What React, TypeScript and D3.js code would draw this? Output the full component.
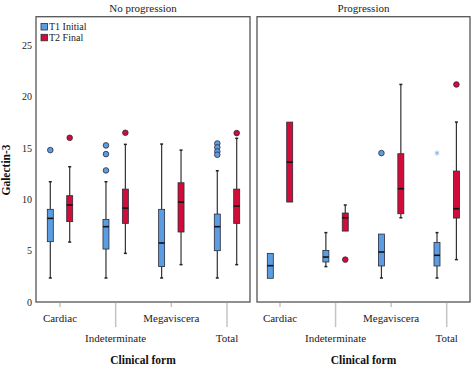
import React from "react";
import * as d3 from "d3";

const categories = ["Cardiac", "Indeterminate", "Megaviscera", "Total"];
const seriesNames = ["T1 Initial", "T2 Final"];
const panelTitles = ["No progression", "Progression"];
const yTicks = [0, 5, 10, 15, 20, 25];

type Box = { min: number; q1: number; med: number; q3: number; max: number; out: number[]; ext?: number[] };

const noProgT1: Box[] = [
  { min: 2.34, q1: 5.88, med: 8.15, q3: 9.03, max: 11.72, out: [14.8] },
  { min: 2.34, q1: 5.16, med: 7.34, q3: 8.05, max: 11.72, out: [15.26, 14.41, 12.82] },
  { min: 2.34, q1: 3.45, med: 5.75, q3: 9.03, max: 15.39, out: [] },
  { min: 2.34, q1: 5.0, med: 7.34, q3: 8.57, max: 12.79, out: [15.45, 15.07, 14.67, 14.35] },
];
const noProgT2: Box[] = [
  { min: 5.84, q1: 7.83, med: 9.45, q3: 10.36, max: 13.18, out: [16.0] },
  { min: 4.74, q1: 7.66, med: 9.15, q3: 11.0, max: 15.36, out: [16.49] },
  { min: 3.64, q1: 6.82, med: 9.74, q3: 11.62, max: 14.8, out: [] },
  { min: 3.64, q1: 7.66, med: 9.35, q3: 11.0, max: 15.95, out: [16.46] },
];
const progT1: Box[] = [
  { min: 2.31, q1: 2.31, med: 3.54, q3: 4.74, max: 4.74, out: [] },
  { min: 3.45, q1: 3.9, med: 4.38, q3: 5.03, max: 6.76, out: [] },
  { min: 2.34, q1: 3.51, med: 4.87, q3: 6.62, max: 6.62, out: [14.51] },
  { min: 2.34, q1: 3.51, med: 4.55, q3: 5.81, max: 6.76, out: [], ext: [14.51] },
];
const progT2: Box[] = [
  { min: 9.74, q1: 9.74, med: 13.63, q3: 17.53, max: 17.53, out: [] },
  { min: 6.91, q1: 6.91, med: 8.21, q3: 8.67, max: 9.45, out: [4.13] },
  { min: 8.21, q1: 8.6, med: 11.04, q3: 14.45, max: 21.2, out: [] },
  { min: 4.13, q1: 8.18, med: 9.09, q3: 12.76, max: 17.53, out: [21.2] },
];

const panelData = [
  [noProgT1, noProgT2],
  [progT1, progT2],
];

const colors = ["#5b9de2", "#d20c38"];
const serif = "'Liberation Serif', 'DejaVu Serif', serif";

export default function App() {
  const W = 474, H = 368;
  const top = 16.7, bottom = 302;
  const y = d3.scaleLinear().domain([0, 27.8]).range([bottom, top]);
  const panels = [
    { x0: 36, x1: 250, r0: 60, r1: 227 },
    { x0: 257, x1: 470, r0: 280, r1: 446.7 },
  ];
  const off = d3.scalePoint<string>().domain(seriesNames).range([-9.7, 9.7]);
  const bw = 6;
  const star = d3.symbol().type(d3.symbolAsterisk).size(18)();

  return (
    <svg
      width={W}
      height={H}
      style={{ position: "absolute", left: 0, top: 0, display: "block", background: "#fff" }}
      fontFamily={serif}
    >
      {yTicks.map((t) => (
        <text key={t} x={32} y={y(t)} dy="0.35em" textAnchor="end" fontSize={10} fill="#222">
          {t}
        </text>
      ))}
      <text transform={`translate(10,170) rotate(-90)`} textAnchor="middle" fontSize={11.5} fontWeight="bold" fill="#111">
        Galectin-3
      </text>
      {panels.map((p, pi) => {
        const x = d3.scalePoint<string>().domain(categories).range([p.r0, p.r1]);
        const cx = (p.x0 + p.x1) / 2;
        return (
          <g key={pi}>
            <text x={cx} y={12} textAnchor="middle" fontSize={11} fill="#222">
              {panelTitles[pi]}
            </text>
            <rect x={p.x0} y={top} width={p.x1 - p.x0} height={bottom - top} fill="none" stroke="#555" strokeWidth={1.3} />
            {categories.map((c, ci) => {
              const long = ci % 2 === 1;
              return (
                <g key={c}>
                  <line x1={x(c)} x2={x(c)} y1={bottom + 1} y2={long ? 327 : 307} stroke="#c4c4c4" strokeWidth={1.5} />
                  <text x={x(c)} y={long ? 342 : 322} textAnchor="middle" fontSize={11} fill="#222">
                    {c}
                  </text>
                </g>
              );
            })}
            <text x={cx} y={364} textAnchor="middle" fontSize={11.5} fontWeight="bold" fill="#111">
              Clinical form
            </text>
            {panelData[pi].map((series, si) =>
              series.map((b, ci) => {
                const bx = (x(categories[ci]) as number) + (off(seriesNames[si]) as number);
                return (
                  <g key={`${si}-${ci}`}>
                    {b.max > b.q3 && (
                      <>
                        <line x1={bx} x2={bx} y1={y(b.q3)} y2={y(b.max)} stroke="#333" strokeWidth={1.2} />
                        <line x1={bx - 1.5} x2={bx + 1.5} y1={y(b.max)} y2={y(b.max)} stroke="#222" strokeWidth={1.5} />
                      </>
                    )}
                    {b.min < b.q1 && (
                      <>
                        <line x1={bx} x2={bx} y1={y(b.q1)} y2={y(b.min)} stroke="#333" strokeWidth={1.2} />
                        <line x1={bx - 1.5} x2={bx + 1.5} y1={y(b.min)} y2={y(b.min)} stroke="#222" strokeWidth={1.5} />
                      </>
                    )}
                    <rect
                      x={bx - bw / 2}
                      y={y(b.q3)}
                      width={bw}
                      height={y(b.q1) - y(b.q3)}
                      fill={colors[si]}
                      stroke="#2a2a3a"
                      strokeWidth={0.8}
                    />
                    <line x1={bx - bw / 2} x2={bx + bw / 2} y1={y(b.med)} y2={y(b.med)} stroke="#111" strokeWidth={1.6} />
                    {b.out.map((o, oi) => (
                      <circle key={oi} cx={bx} cy={y(o)} r={2.8} fill={colors[si]} stroke="#2a2a3a" strokeWidth={0.8} />
                    ))}
                    {(b.ext || []).map((o, oi) => (
                      <path key={"e" + oi} d={star as string} transform={`translate(${bx},${y(o)})`} stroke="#8db9ea" strokeWidth={1} fill="none" />
                    ))}
                  </g>
                );
              })
            )}
          </g>
        );
      })}
      {seriesNames.map((s, i) => (
        <g key={s} transform={`translate(41,${23.5 + i * 10.8})`}>
          <rect width={6.5} height={6.5} fill={colors[i]} stroke="#2a2a3a" strokeWidth={0.8} />
          <text x={8} y={6.5} fontSize={10} fill="#222">
            {s}
          </text>
        </g>
      ))}
    </svg>
  );
}
